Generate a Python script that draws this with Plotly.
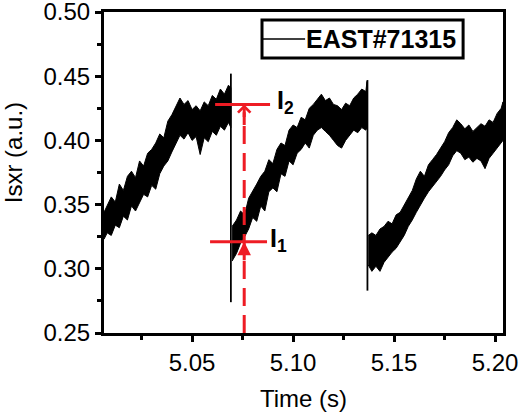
import plotly.graph_objects as go

t1 = [5.0064, 5.008, 5.010, 5.012, 5.014, 5.016, 5.018, 5.020, 5.022, 5.024,
      5.026, 5.028, 5.030, 5.032, 5.034, 5.036, 5.038, 5.040, 5.042, 5.044,
      5.046, 5.048, 5.050, 5.052, 5.054, 5.056, 5.058, 5.060, 5.062, 5.064,
      5.066, 5.068, 5.0692]
hi1 = [0.344, 0.350, 0.356, 0.352, 0.366, 0.361, 0.372, 0.376, 0.371, 0.384,
       0.380, 0.390, 0.393, 0.398, 0.405, 0.402, 0.415, 0.420, 0.426, 0.433,
       0.428, 0.431, 0.424, 0.427, 0.423, 0.430, 0.427, 0.435, 0.432, 0.440,
       0.436, 0.443, 0.441]
lo1 = [0.323, 0.328, 0.326, 0.334, 0.332, 0.341, 0.338, 0.349, 0.345, 0.352,
       0.358, 0.356, 0.365, 0.362, 0.374, 0.380, 0.384, 0.391, 0.398, 0.404,
       0.401, 0.406, 0.400, 0.403, 0.389, 0.402, 0.399, 0.407, 0.404, 0.411,
       0.408, 0.414, 0.410]

t2 = [5.0698, 5.072, 5.074, 5.076, 5.078, 5.080, 5.082, 5.084, 5.086, 5.088,
      5.090, 5.092, 5.094, 5.096, 5.098, 5.100, 5.102, 5.104, 5.106, 5.108,
      5.110, 5.112, 5.114, 5.116, 5.118, 5.120, 5.122, 5.124, 5.126, 5.128,
      5.130, 5.132, 5.134, 5.136, 5.1366]
hi2 = [0.333, 0.338, 0.345, 0.342, 0.355, 0.360, 0.366, 0.372, 0.376, 0.385,
       0.382, 0.393, 0.398, 0.396, 0.408, 0.412, 0.410, 0.418, 0.416, 0.425,
       0.428, 0.432, 0.436, 0.431, 0.433, 0.428, 0.427, 0.424, 0.429, 0.427,
       0.433, 0.436, 0.440, 0.438, 0.446]
lo2 = [0.306, 0.312, 0.320, 0.325, 0.331, 0.340, 0.337, 0.349, 0.345, 0.360,
       0.363, 0.360, 0.374, 0.372, 0.384, 0.381, 0.390, 0.393, 0.398, 0.394,
       0.404, 0.408, 0.410, 0.407, 0.404, 0.400, 0.396, 0.394, 0.400, 0.404,
       0.408, 0.406, 0.410, 0.408, 0.410]

t3 = [5.1372, 5.139, 5.141, 5.143, 5.145, 5.147, 5.149, 5.151, 5.153, 5.155,
      5.157, 5.159, 5.161, 5.163, 5.165, 5.167, 5.169, 5.171, 5.173, 5.175,
      5.177, 5.179, 5.181, 5.183, 5.185, 5.187, 5.189, 5.191, 5.193, 5.195,
      5.197, 5.199, 5.201, 5.203, 5.2039]
hi3 = [0.326, 0.328, 0.326, 0.331, 0.333, 0.337, 0.335, 0.342, 0.344, 0.350,
       0.355, 0.361, 0.370, 0.376, 0.372, 0.381, 0.385, 0.389, 0.394, 0.399,
       0.406, 0.410, 0.416, 0.413, 0.409, 0.412, 0.407, 0.410, 0.413, 0.411,
       0.416, 0.414, 0.421, 0.425, 0.430]
lo3 = [0.303, 0.298, 0.302, 0.298, 0.305, 0.309, 0.313, 0.316, 0.321, 0.326,
       0.333, 0.338, 0.344, 0.350, 0.355, 0.360, 0.364, 0.368, 0.372, 0.377,
       0.381, 0.388, 0.392, 0.390, 0.385, 0.387, 0.383, 0.386, 0.384, 0.378,
       0.386, 0.390, 0.394, 0.398, 0.400]

# sawtooth crashes
crash_t = [5.0692, 5.1368]
crash_top = [0.452, 0.447]
crash_bot = [0.274, 0.283]

# I1 / I2 markers
t_mark = 5.0758
I1 = 0.321
I2 = 0.428
I1_span = [5.0589, 5.0871]
I2_span = [5.0614, 5.0886]

x_ticks = [5.05, 5.10, 5.15, 5.20]
y_ticks = [0.25, 0.30, 0.35, 0.40, 0.45, 0.50]

RED = "#ee1c24"
FONT = "Arial, Liberation Sans, sans-serif"

band_x, band_y = [], []
for t, hi, lo in [(t1, hi1, lo1), (t2, hi2, lo2), (t3, hi3, lo3)]:
    band_x += t + t[::-1] + [None]
    band_y += hi + lo[::-1] + [None]

crash_x, crash_y = [], []
for t, a, b in zip(crash_t, crash_top, crash_bot):
    crash_x += [t, t, None]
    crash_y += [a, b, None]

fig = go.Figure()
fig.add_trace(go.Scatter(x=band_x, y=band_y, mode="lines", fill="toself",
                         fillcolor="black", line=dict(color="black", width=1),
                         showlegend=False, hoverinfo="skip"))
fig.add_trace(go.Scatter(x=crash_x, y=crash_y, mode="lines",
                         line=dict(color="black", width=1.8),
                         name="EAST#71315", showlegend=False))

# legend box drawn by hand so its height matches the original
fig.add_shape(type="rect", xref="paper", yref="paper", x0=0.396, x1=0.900,
              y0=0.857, y1=0.975, line=dict(color="black", width=3))
fig.add_shape(type="line", xref="paper", yref="paper", x0=0.396, x1=0.504,
              y0=0.916, y1=0.916, line=dict(color="black", width=1.5))
fig.add_annotation(xref="paper", yref="paper", x=0.502, y=0.916, text="<b>EAST#71315</b>",
                   showarrow=False, xanchor="left", yanchor="middle",
                   font=dict(family=FONT, size=25, color="black"))

# red guide lines
fig.add_shape(type="line", x0=I2_span[0], x1=I2_span[1], y0=I2, y1=I2,
              line=dict(color=RED, width=3))
fig.add_shape(type="line", x0=I1_span[0], x1=I1_span[1], y0=I1, y1=I1,
              line=dict(color=RED, width=3))
fig.add_shape(type="line", x0=t_mark, x1=t_mark, y0=0.25, y1=I2 - 0.006,
              line=dict(color=RED, width=3, dash="18px,9px"))
fig.add_annotation(x=t_mark, y=I2, ax=0, ay=22, text="", showarrow=True,
                   arrowhead=4, arrowsize=0.8, arrowwidth=3, arrowcolor=RED)
fig.add_annotation(x=t_mark, y=I1, ax=0, ay=20, text="", showarrow=True,
                   arrowhead=2, arrowsize=0.9, arrowwidth=3, arrowcolor=RED)

fig.add_annotation(x=5.0911, y=I2, text="<b>I<sub>2</sub></b>", showarrow=False,
                   xanchor="left", yanchor="middle", yshift=2,
                   font=dict(family=FONT, size=25, color="black"))
fig.add_annotation(x=5.0876, y=I1, text="<b>I<sub>1</sub></b>", showarrow=False,
                   xanchor="left", yanchor="middle", yshift=2,
                   font=dict(family=FONT, size=25, color="black"))

# y title placed by hand (sits a little above the plot centre)
fig.add_annotation(xref="paper", yref="paper", x=-0.228, y=0.56, text="Isxr (a.u.)",
                   textangle=-90, showarrow=False, xanchor="center", yanchor="middle",
                   font=dict(family=FONT, size=24, color="black"))

fig.update_layout(
    width=520, height=414,
    margin=dict(l=104, r=17, t=12, b=81),
    paper_bgcolor="white", plot_bgcolor="white",
    font=dict(family=FONT, color="black"),
    showlegend=False,
)
fig.update_xaxes(range=[5.0064, 5.2039], tickvals=x_ticks, tickformat=".2f",
                 automargin=False, ticklabeloverflow="allow",
                 showline=True, linewidth=3, linecolor="black", mirror=True,
                 ticks="outside", ticklen=6, tickwidth=3, tickcolor="black",
                 minor=dict(dtick=0.025, ticks="outside", ticklen=4, tickwidth=3,
                            tickcolor="black", tick0=5.0),
                 showgrid=False, zeroline=False,
                 tickfont=dict(family=FONT, size=24),
                 title=dict(text="Time (s)", font=dict(family=FONT, size=24), standoff=16))
fig.update_yaxes(range=[0.25, 0.50], tickvals=y_ticks, tickformat=".2f",
                 automargin=False, ticklabeloverflow="allow",
                 showline=True, linewidth=3, linecolor="black", mirror=True,
                 ticks="outside", ticklen=6, tickwidth=3, tickcolor="black",
                 minor=dict(dtick=0.025, ticks="outside", ticklen=4, tickwidth=3,
                            tickcolor="black", tick0=0.25),
                 showgrid=False, zeroline=False,
                 tickfont=dict(family=FONT, size=24))

# the page body has a default 8px margin; drop it so the figure fills the window
fig.write_html("out.html", config={"displayModeBar": False},
               post_script="document.body.style.margin='0px';document.body.style.overflow='hidden';")
